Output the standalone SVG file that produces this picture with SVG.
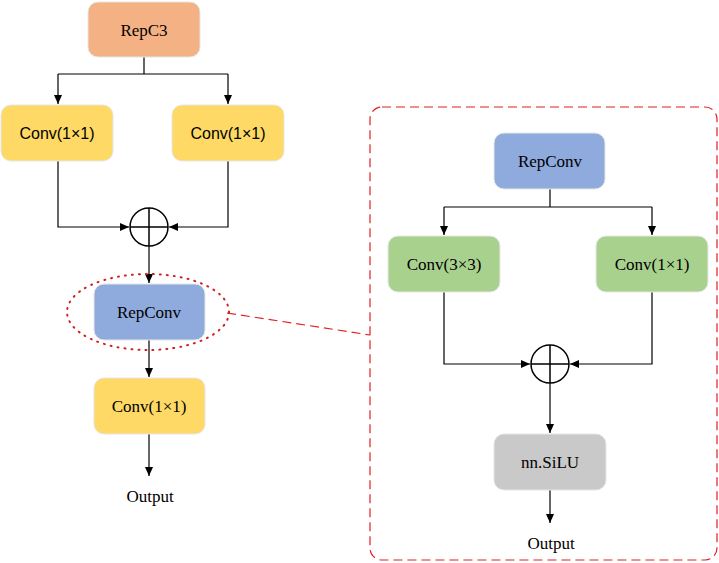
<svg xmlns="http://www.w3.org/2000/svg" width="719" height="563" viewBox="0 0 719 563">
<style>
.n{stroke:#e6e6e6;stroke-width:1}
.s{font-family:"Liberation Serif",serif;font-size:17px;text-anchor:middle;dominant-baseline:central;fill:#000}
.a{font-family:"Liberation Sans",sans-serif;font-size:16px;text-anchor:middle;dominant-baseline:central;fill:#000}
.c{fill:none;stroke:#000;stroke-width:1.2}
</style>
<defs><marker id="ar" markerWidth="10" markerHeight="10" refX="9" refY="5" orient="auto" markerUnits="userSpaceOnUse"><path d="M0,1 L9,5 L0,9Z" fill="#000"/></marker></defs>
<rect width="719" height="563" fill="#fff"/>
<g id="connectors">
<path class="c" d="M144,57 V74 M58,74 H228"/>
<path class="c" d="M58,74 V104" marker-end="url(#ar)"/>
<path class="c" d="M228,74 V104" marker-end="url(#ar)"/>
<path class="c" d="M58,161 V227 H129" marker-end="url(#ar)"/>
<path class="c" d="M228,161 V227 H169" marker-end="url(#ar)"/>
<path class="c" d="M149,246 V283" marker-end="url(#ar)"/>
<path class="c" d="M149,340 V377" marker-end="url(#ar)"/>
<path class="c" d="M149,434 V476" marker-end="url(#ar)"/>
<path class="c" d="M550,189 V207 M444,207 H652"/>
<path class="c" d="M444,207 V235" marker-end="url(#ar)"/>
<path class="c" d="M652,207 V235" marker-end="url(#ar)"/>
<path class="c" d="M444,292 V364 H530" marker-end="url(#ar)"/>
<path class="c" d="M652,292 V364 H570" marker-end="url(#ar)"/>
<path class="c" d="M550,383 V433" marker-end="url(#ar)"/>
<path class="c" d="M550,490 V523" marker-end="url(#ar)"/>
<path d="M227,313 L370,335" stroke="#e02020" stroke-width="1.2" stroke-dasharray="9,5" fill="none"/>
</g>
<g id="sum1"><circle cx="149" cy="227" r="19" fill="#fff" stroke="#000" stroke-width="1.5"/><path d="M130,227 H168 M149,208 V246" stroke="#000" stroke-width="1.5"/></g>
<g id="sum2"><circle cx="550" cy="364" r="19" fill="#fff" stroke="#000" stroke-width="1.5"/><path d="M531,364 H569 M550,345 V383" stroke="#000" stroke-width="1.5"/></g>
<g id="repc3"><rect class="n" x="88" y="2" width="112" height="55" rx="10" fill="#f4b183"/><text class="s" x="144" y="30">RepC3</text></g>
<g id="conv1"><rect class="n" x="1" y="105" width="112" height="56" rx="10" fill="#ffd966"/><text class="a" x="57" y="133">Conv(1×1)</text></g>
<g id="conv2"><rect class="n" x="172" y="105" width="112" height="56" rx="10" fill="#ffd966"/><text class="a" x="228" y="133">Conv(1×1)</text></g>
<g id="repconv"><rect class="n" x="94" y="284" width="111" height="56" rx="10" fill="#8faadc"/><text class="s" x="149" y="312">RepConv</text>
<ellipse cx="148" cy="312" rx="81" ry="38" fill="none" stroke="#d02020" stroke-width="2" stroke-dasharray="1,6" stroke-linecap="round"/></g>
<g id="conv3"><rect class="n" x="94" y="378" width="111" height="56" rx="10" fill="#ffd966"/><text class="s" x="149" y="406">Conv(1×1)</text></g>
<g id="out1"><text class="s" x="150" y="496">Output</text></g>
<g id="detail"><rect x="370" y="107" width="347" height="453" rx="12" fill="none" stroke="#e02020" stroke-width="1.2" stroke-dasharray="9,5"/></g>
<g id="repconv2"><rect class="n" x="494" y="133" width="111" height="56" rx="10" fill="#8faadc"/><text class="s" x="550" y="161">RepConv</text></g>
<g id="conv33"><rect class="n" x="388" y="236" width="112" height="56" rx="10" fill="#a9d18e"/><text class="s" x="444" y="264">Conv(3×3)</text></g>
<g id="conv11"><rect class="n" x="596" y="236" width="112" height="56" rx="10" fill="#a9d18e"/><text class="s" x="652" y="264">Conv(1×1)</text></g>
<g id="silu"><rect class="n" x="494" y="434" width="112" height="56" rx="10" fill="#c9c9c9"/><text class="s" x="550" y="462">nn.SiLU</text></g>
<g id="out2"><text class="s" x="551" y="543">Output</text></g>
</svg>
